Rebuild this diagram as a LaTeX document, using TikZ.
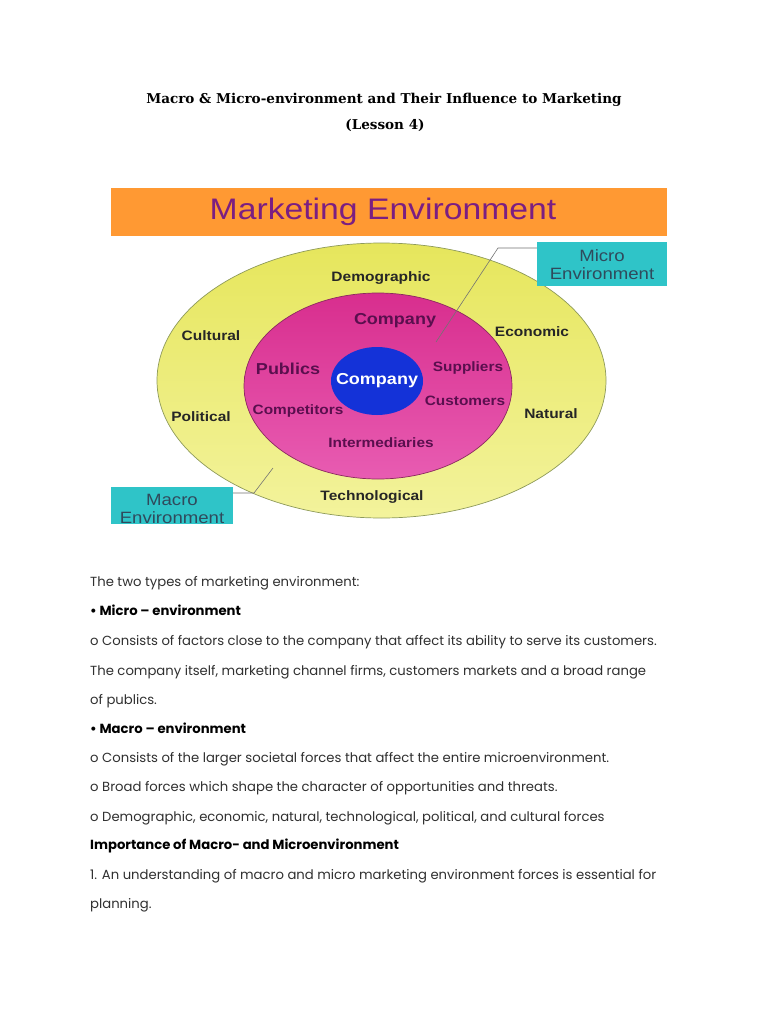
\documentclass[tikz,border=0pt]{standalone}
\usepackage{fontspec}
\usepackage{graphicx}
\setmainfont{Poppins}
\newfontfamily\dgm{Liberation Sans}
\newfontfamily\ttl{DejaVu Serif}
\newcommand{\sqz}[1]{\scalebox{1}[0.88]{#1}}
\definecolor{bandorange}{HTML}{FF9933}
\definecolor{teal}{HTML}{2FC4C8}
\definecolor{tealtext}{HTML}{2F4A5C}
\definecolor{titlepurple}{HTML}{7B1E82}
\definecolor{darkmag}{HTML}{5A0F4E}
\definecolor{bodytext}{HTML}{303030}
\definecolor{ytop}{HTML}{E6E65C}
\definecolor{ybot}{HTML}{F3F39C}
\definecolor{mtop}{HTML}{D82E8E}
\definecolor{mbot}{HTML}{E85CB2}
\definecolor{corefill}{HTML}{1432D8}
\definecolor{yedge}{HTML}{8E9A5A}
\definecolor{medge}{HTML}{8A2A5E}
\tikzset{
 bodyline/.style={anchor=base west,inner sep=0pt,text=bodytext,font=\fontsize{13.2}{15}\selectfont},
 bodybold/.style={bodyline,text=black,font=\fontsize{13.2}{15}\selectfont\bfseries},
 titleline/.style={anchor=center,inner sep=0pt,font=\ttl\bfseries\fontsize{13.55}{15}\selectfont,text=black},
 outerlab/.style={inner sep=0pt,font=\dgm\bfseries\fontsize{15.5}{17}\selectfont,text=black!85},
 innerlab/.style={inner sep=0pt,font=\dgm\bfseries\fontsize{15.4}{17}\selectfont,text=darkmag},
 biglab/.style={inner sep=0pt,font=\dgm\bfseries\fontsize{18}{20}\selectfont,text=darkmag},
 boxlab/.style={inner sep=0pt,font=\dgm\fontsize{18.6}{20}\selectfont,text=tealtext},
 leader/.style={draw=black!55,line width=0.6pt},
}
\begin{document}
\begin{tikzpicture}[x=1pt,y=-1pt]
\useasboundingbox[fill=white] (0,0) rectangle (768,1024);
\node[titleline] (t1) at (384,99.5) {Macro \& Micro-environment and Their Influence to Marketing};
\node[titleline] (t2) at (385,125) {(Lesson 4)};
\fill[bandorange] (111,188) rectangle (667,236);
\node[inner sep=0pt,font=\dgm\fontsize{33.7}{36}\selectfont,text=titlepurple] (band) at (383,212) {\sqz{Marketing Environment}};
\path[draw=yedge,line width=0.7pt,top color=ytop,bottom color=ybot] (381.5,380.5) ellipse [x radius=224.5,y radius=137.5];
\path[draw=medge,line width=0.7pt,top color=mtop,bottom color=mbot] (378,386) ellipse [x radius=134,y radius=93];
\fill[corefill] (377,381) ellipse [x radius=46,y radius=34];
\node[inner sep=0pt,font=\dgm\bfseries\fontsize{18}{20}\selectfont,text=white] (core) at (377,380.5) {\sqz{Company}};
\node[outerlab] (dem) at (381,278.5) {\sqz{Demographic}};
\node[outerlab] (cul) at (211,336) {\sqz{Cultural}};
\node[outerlab] (eco) at (532,332) {\sqz{Economic}};
\node[outerlab] (pol) at (201,417) {\sqz{Political}};
\node[outerlab] (nat) at (551,414) {\sqz{Natural}};
\node[outerlab] (tec) at (372,496.5) {\sqz{Technological}};
\node[biglab] (com) at (395,320.5) {\sqz{Company}};
\node[biglab] (pub) at (288,369) {\sqz{Publics}};
\node[innerlab] (sup) at (468,368) {\sqz{Suppliers}};
\node[innerlab] (cus) at (465,401) {\sqz{Customers}};
\node[innerlab] (cpt) at (298,411) {\sqz{Competitors}};
\node[innerlab] (int) at (381,443) {\sqz{Intermediaries}};
\node[fill=teal,minimum width=130pt,minimum height=44pt,inner sep=0pt] (mic) at (602,264) {};
\node[boxlab,anchor=center] (mict1) at (602,255.5) {\sqz{Micro}};
\node[boxlab,anchor=center] (mict2) at (602,273.5) {\sqz{Environment}};
\begin{scope}
\clip (100,480) rectangle (240,523);
\node[fill=teal,minimum width=122pt,minimum height=50pt,inner sep=0pt] (mac) at (172,512) {};
\node[boxlab,anchor=center] (mact1) at (172,499.5) {\sqz{Macro}};
\node[boxlab,anchor=center] (mact2) at (172,517.5) {\sqz{Environment}};
\end{scope}
\coordinate (micb) at (498,248);
\coordinate (mice) at (436,342);
\coordinate (macb) at (254,493);
\coordinate (mace) at (273,468);
\draw[leader] (mic.west |- micb) -- (micb) -- (mice);
\draw[leader] (mac.east |- macb) -- (macb) -- (mace);
\node[bodyline] (l1) at (90,586) {The two types of marketing environment:};
\node[bodybold] (l2) at (90,615.5) {• Micro – environment};
\node[bodyline] (l3) at (90,645) {o Consists of factors close to the company that affect its ability to serve its customers.};
\node[bodyline] (l4) at (90,675) {The company itself, marketing channel firms, customers markets and a broad range};
\node[bodyline] (l5) at (90,704) {of publics.};
\node[bodybold] (l6) at (90,733) {• Macro – environment};
\node[bodyline] (l7) at (90,762) {o Consists of the larger societal forces that affect the entire microenvironment.};
\node[bodyline] (l8) at (90,791) {o Broad forces which shape the character of opportunities and threats.};
\node[bodyline] (l9) at (90,821) {o Demographic, economic, natural, technological, political, and cultural forces};
\node[bodybold] (l10) at (90,849.5) {Importance of Macro- and Microenvironment};
\node[bodyline] (l11) at (90,879) {1. An understanding of macro and micro marketing environment forces is essential for};
\node[bodyline] (l12) at (90,908) {planning.};
\end{tikzpicture}
\end{document}
